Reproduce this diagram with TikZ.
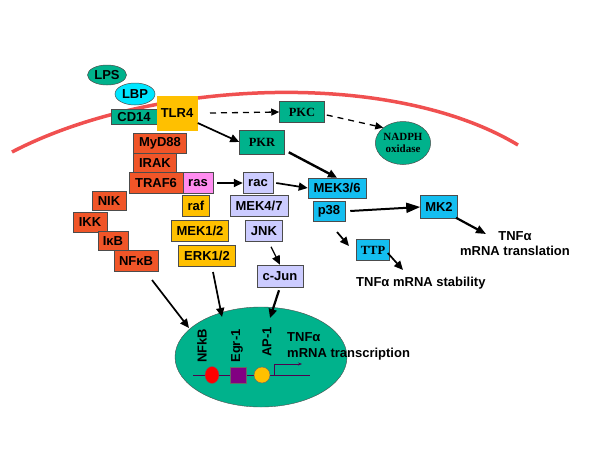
\documentclass[tikz,border=0pt]{standalone}
\usepackage{fontspec}
\setmainfont{Liberation Sans}
\newfontfamily\serfam{Liberation Serif}
\usetikzlibrary{arrows.meta,shapes.geometric}
\definecolor{grn}{RGB}{0,178,140}
\definecolor{org}{RGB}{240,85,40}
\definecolor{yel}{RGB}{255,192,0}
\definecolor{pnk}{RGB}{255,140,240}
\definecolor{lav}{RGB}{204,204,255}
\definecolor{cyn}{RGB}{20,190,240}
\definecolor{lcyn}{RGB}{0,230,255}
\definecolor{mem}{RGB}{240,80,80}
\definecolor{pur}{RGB}{130,0,130}
\begin{document}
\begin{tikzpicture}[x=1pt,y=-1pt,
  every node/.style={font=\fontsize{13}{14}\selectfont\bfseries, inner sep=0pt},
  bx/.style={draw=black!70, line width=0.5pt, fill=#1},
  sf/.style={font=\fontsize{12.5}{13}\selectfont\bfseries\serfam},
  ar/.style={line width=1.7pt, -{Triangle[length=9pt,width=8pt]}},
  da/.style={line width=1.3pt, dash pattern=on 6pt off 5pt, -{Triangle[length=8pt,width=7pt]}}]
\useasboundingbox (0,0) rectangle (600,450);
% membrane
\draw[mem, line width=3.5pt] (12,152) .. controls (150,80) and (390,68) .. (518,145);
% nucleus
\node[ellipse, draw=black!70, fill=grn, minimum width=172, minimum height=100] (nuc) at (261,357) {};
\draw[pur!60!black, line width=0.8pt] (193,375) -- (310,375);
\draw[pur!60!black, line width=0.7pt, -{Stealth[length=4pt]}] (274,375) -- (274,364) -- (302,364);
\node[ellipse, fill=red, draw=black!60, minimum width=14, minimum height=17] (c1) at (212,375) {};
\node[fill=pur, draw=black!60, minimum width=16, minimum height=16] (c2) at (238,375) {};
\node[circle, fill=yel, draw=black!60, minimum size=16] (c3) at (262,375) {};
\node[rotate=90] (tnfk) at (202,346) {NFkB};
\node[rotate=90] (tegr) at (237,346) {Egr-1};
\node[rotate=90] (tap) at (267,342) {AP-1};
\node[anchor=west, align=left, font=\fontsize{13}{16}\selectfont\bfseries] (ttr) at (287,346) {TNFα\\mRNA transcription};
% receptor
\node[ellipse, bx=grn, minimum width=39, minimum height=20] (lps) at (107,75) {LPS};
\node[ellipse, bx=lcyn, minimum width=40, minimum height=22] (lbp) at (135,94) {LBP};
\node[bx=grn, minimum width=46, minimum height=15] (cd14) at (134,117) {CD14};
\node[bx=yel, draw=none, minimum width=41, minimum height=35] (tlr4) at (177,113) {TLR4};
\node[bx=grn, sf, minimum width=45, minimum height=21] (pkc) at (302,112) {PKC};
\node[bx=grn, sf, minimum width=45, minimum height=24] (pkr) at (262,142) {PKR};
\node[ellipse, bx=grn, align=center, font=\fontsize{11}{12}\selectfont\bfseries\serfam, minimum width=53, minimum height=43] (nadph) at (403,143) {NADPH\\oxidase};
% orange
\node[bx=org, minimum width=53, minimum height=20] (myd) at (160,143) {MyD88};
\node[bx=org, minimum width=43, minimum height=20] (irak) at (155,163) {IRAK};
\node[bx=org, minimum width=54, minimum height=21] (traf) at (156,183) {TRAF6};
\node[bx=org, minimum width=34, minimum height=19] (nik) at (109,201) {NIK};
\node[bx=org, minimum width=34, minimum height=20] (ikk) at (90,222) {IKK};
\node[bx=org, minimum width=30, minimum height=19] (ikb) at (113,241) {IκB};
\node[bx=org, minimum width=44, minimum height=21] (nfkb) at (136,261) {NFκB};
% ras path
\node[bx=pnk, minimum width=30, minimum height=21] (ras) at (198,183) {ras};
\node[bx=yel, minimum width=27, minimum height=21] (raf) at (196,206) {raf};
\node[bx=yel, minimum width=57, minimum height=21] (mek12) at (200,231) {MEK1/2};
\node[bx=yel, minimum width=57, minimum height=21] (erk) at (207,256) {ERK1/2};
\node[bx=lav, minimum width=30, minimum height=21] (rac) at (258,183) {rac};
\node[bx=lav, minimum width=58, minimum height=21] (mek47) at (259,206) {MEK4/7};
\node[bx=lav, minimum width=37, minimum height=21] (jnk) at (264,231) {JNK};
\node[bx=lav, minimum width=46, minimum height=22] (cjun) at (280,276) {c-Jun};
% p38
\node[bx=cyn, minimum width=58, minimum height=20] (mek36) at (337,188) {MEK3/6};
\node[bx=cyn, minimum width=32, minimum height=20] (p38) at (329,211) {p38};
\node[bx=cyn, minimum width=37, minimum height=23] (mk2) at (439,207) {MK2};
\node[bx=cyn, sf, minimum width=33, minimum height=21] (ttp) at (373,250) {TTP};
\node[align=center, font=\fontsize{13}{15}\selectfont\bfseries] (ttl) at (515,244) {TNFα\\mRNA translation};
\node[anchor=west] (tst) at (356,283) {TNFα mRNA stability};
% arrows
\draw[da] (210,113) -- (pkc.west);
\draw[da] (pkc.east)+(2,3) -- (nadph.north west);
\draw[ar] (tlr4.east)+(0,10) -- (pkr.west);
\draw[ar, line width=2.4pt] (pkr.south east)+(4,-2) -- (mek36.north);
\draw[ar] (ras.east)+(4,0) -- (rac.west);
\draw[ar] (rac.east)+(3,0) -- (mek36.west);
\draw[line width=2pt, -{Triangle[length=14pt,width=10pt]}] (p38.east)+(5,0) -- (mk2.west);
\draw[ar] (337,232) -- (349,246);
\draw[ar] (ttp.east)+(-2,3) -- (403,270);
\draw[line width=2.2pt, -{Triangle[length=10pt,width=8pt]}] (mk2.south)+(17,-1) -- (486,234);
\draw[ar, line width=1.3pt] (jnk.south)+(7,5) -- (cjun.north);
\draw[ar] (152,280) -- (189,328);
\draw[ar] (213,272) -- (222,317);
\draw[ar, line width=2.2pt] (cjun.south) ++(-1,3) -- (270,318);
\end{tikzpicture}
\end{document}
